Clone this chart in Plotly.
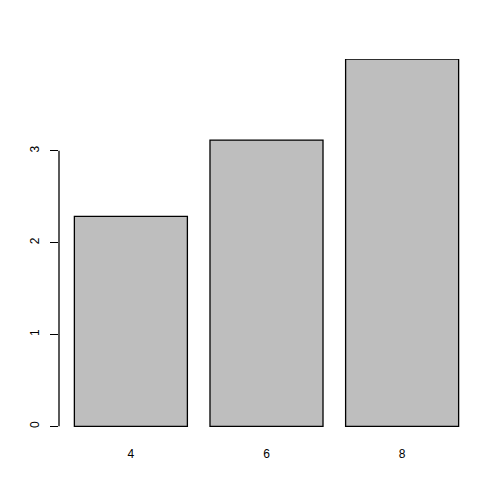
import plotly.graph_objects as go

# mean weight by cylinder count
cyl = ["4", "6", "8"]
wt = [2.285727, 3.117143, 3.999214]
y_ticks = [0, 1, 2, 3]

fig = go.Figure()
fig.add_trace(go.Bar(
    x=cyl, y=wt,
    marker=dict(color="#BEBEBE", line=dict(color="black", width=1.3)),
    cliponaxis=False,
))

# R-style axis line covering only the tick span
fig.add_shape(type="line", xref="paper", yref="y",
              x0=0, x1=0, y0=min(y_ticks), y1=max(y_ticks),
              line=dict(color="black", width=1.3))

# page body has an 8px margin, so the margins are shifted to compensate
fig.update_layout(
    width=504, height=504,
    margin=dict(l=51, r=38, t=51, b=81, autoexpand=False),
    paper_bgcolor="white", plot_bgcolor="white",
    bargap=0.2 / 1.2,
    showlegend=False,
    font=dict(family="Liberation Sans, Arial, sans-serif", size=12, color="black"),
)
fig.update_xaxes(
    type="category", range=[-0.53, 2.53], automargin=False,
    showgrid=False, zeroline=False, showline=False, ticks="",
    tickfont=dict(color="black"),
    ticklabelstandoff=14,
)
fig.update_yaxes(
    range=[-0.051, 4.0], automargin=False,
    tickvals=y_ticks, ticktext=[str(v) for v in y_ticks],
    tickangle=-90, tickfont=dict(color="black"),
    ticks="outside", ticklen=8, tickwidth=1.3, tickcolor="black",
    showgrid=False, zeroline=False, showline=False,
    ticklabelstandoff=6,
)

fig.write_html("out.html")
